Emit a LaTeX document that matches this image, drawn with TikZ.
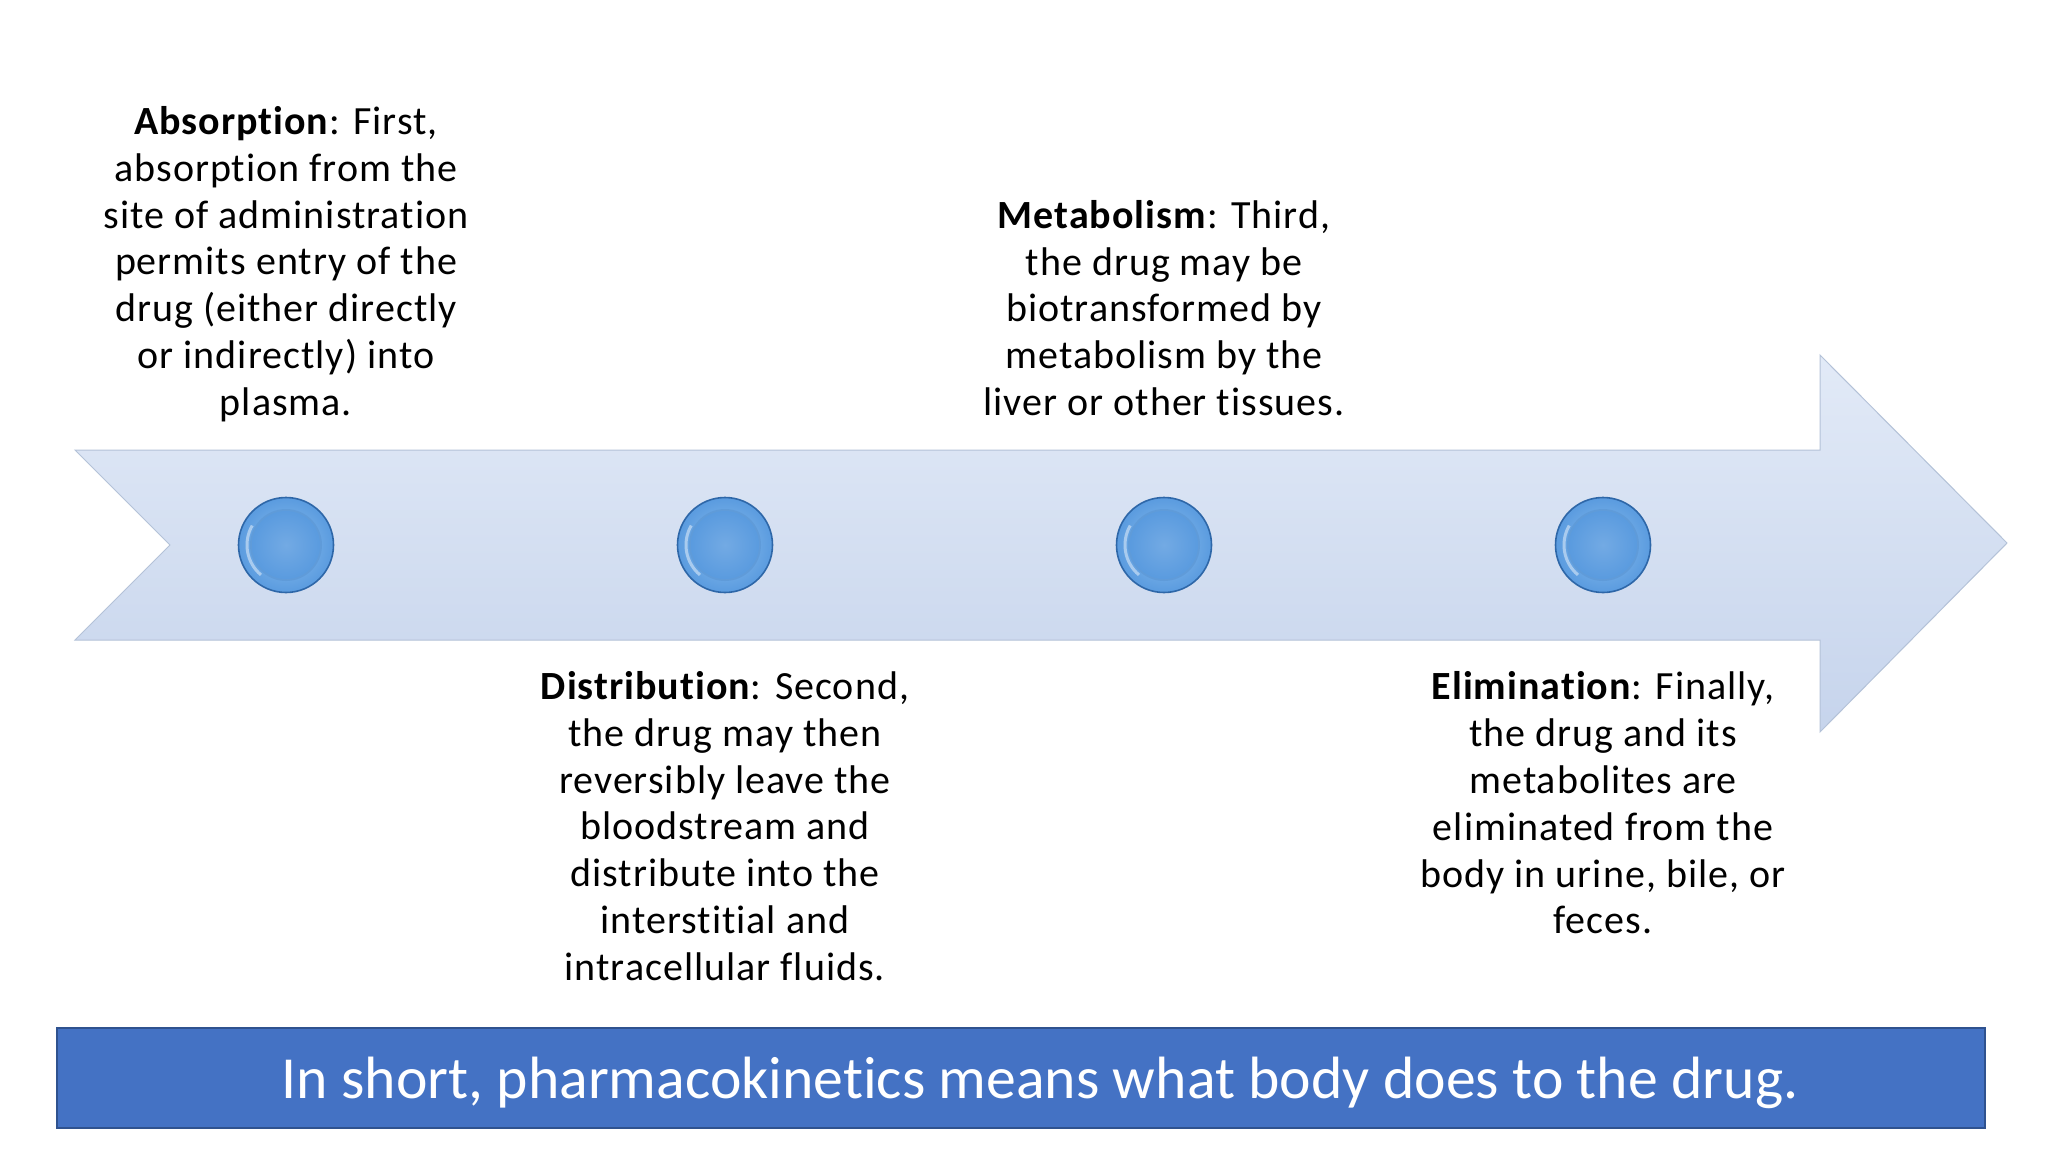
\documentclass[tikz,border=0pt]{standalone}
\usepackage{fontspec}
\setmainfont{Carlito}[Ligatures=NoCommon]
\newfontfamily\descfont{Carlito}[Ligatures=NoCommon, LetterSpace=2.5]
\usetikzlibrary{shadings}
\definecolor{arrowtop}{HTML}{E2EAF7}
\definecolor{arrowbot}{HTML}{C6D4EC}
\definecolor{arrowedge}{HTML}{B4C2D8}
\definecolor{ballfill}{HTML}{5A9BDF}
\definecolor{ballrim}{HTML}{2E67A8}
\definecolor{ballhi}{HTML}{8EC0EE}
\definecolor{bannerblue}{HTML}{4472C4}
\definecolor{banneredge}{HTML}{2F528F}
\tikzset{
  desc/.style={align=center, text=black, inner sep=0pt,
    font=\descfont\fontsize{40}{46.8}\selectfont},
  ball/.style={circle, minimum size=95pt, inner sep=0pt,
    inner color=ballhi, outer color=ballfill, draw=ballrim, line width=1.6pt},
}
\begin{document}
\begin{tikzpicture}[x=1pt,y=-1pt]
\useasboundingbox (0,0) rectangle (2048,1152);
\fill[white] (0,0) rectangle (2048,1152);
% arrow
\shade[top color=arrowtop, bottom color=arrowbot, draw=arrowedge, line width=1pt]
  (75,450) -- (1820,450) -- (1820,355) -- (2007,543) -- (1820,732) -- (1820,640)
  -- (75,640) -- (170,545) -- cycle;
% balls
\foreach \n/\x in {a/286,b/725,c/1164,d/1603}{
  \node[ball] (ball\n) at (\x,545) {};
  \fill[ballfill!90!black, opacity=0.35] (ball\n.center) circle (36pt);
  \shade[inner color=ballfill!85!white, outer color=ballfill] (ball\n.center) circle (34pt);
  \draw[white, opacity=0.45, line width=3pt] ([shift={(150:39pt)}]ball\n.center) arc[start angle=150, end angle=230, radius=39pt];
}
% texts
\node[desc] (absorption) at (286,264) {\textbf{Absorption}: First,\\absorption from the\\site of administration\\permits entry of the\\drug (either directly\\or indirectly) into\\plasma.};
\node[desc] (metabolism) at (1164,308) {\textbf{Metabolism}: Third,\\the drug may be\\biotransformed by\\metabolism by the\\liver or other tissues.};
\node[desc] (distribution) at (725,826) {\textbf{Distribution}: Second,\\the drug may then\\reversibly leave the\\bloodstream and\\distribute into the\\interstitial and\\intracellular fluids.};
\node[desc] (elimination) at (1603,803) {\textbf{Elimination}: Finally,\\the drug and its\\metabolites are\\eliminated from the\\body in urine, bile, or\\feces.};
% banner
\node[fill=bannerblue, draw=banneredge, line width=1.5pt, minimum width=1928pt,
  minimum height=100pt, inner sep=0pt] (banner) at (1021,1078) {};
\node[text=white, font=\fontsize{59.7}{70}\selectfont, inner sep=0pt] (bannertext)
  at (1040,1083) {In short, pharmacokinetics means what body does to the drug.};
\end{tikzpicture}
\end{document}
